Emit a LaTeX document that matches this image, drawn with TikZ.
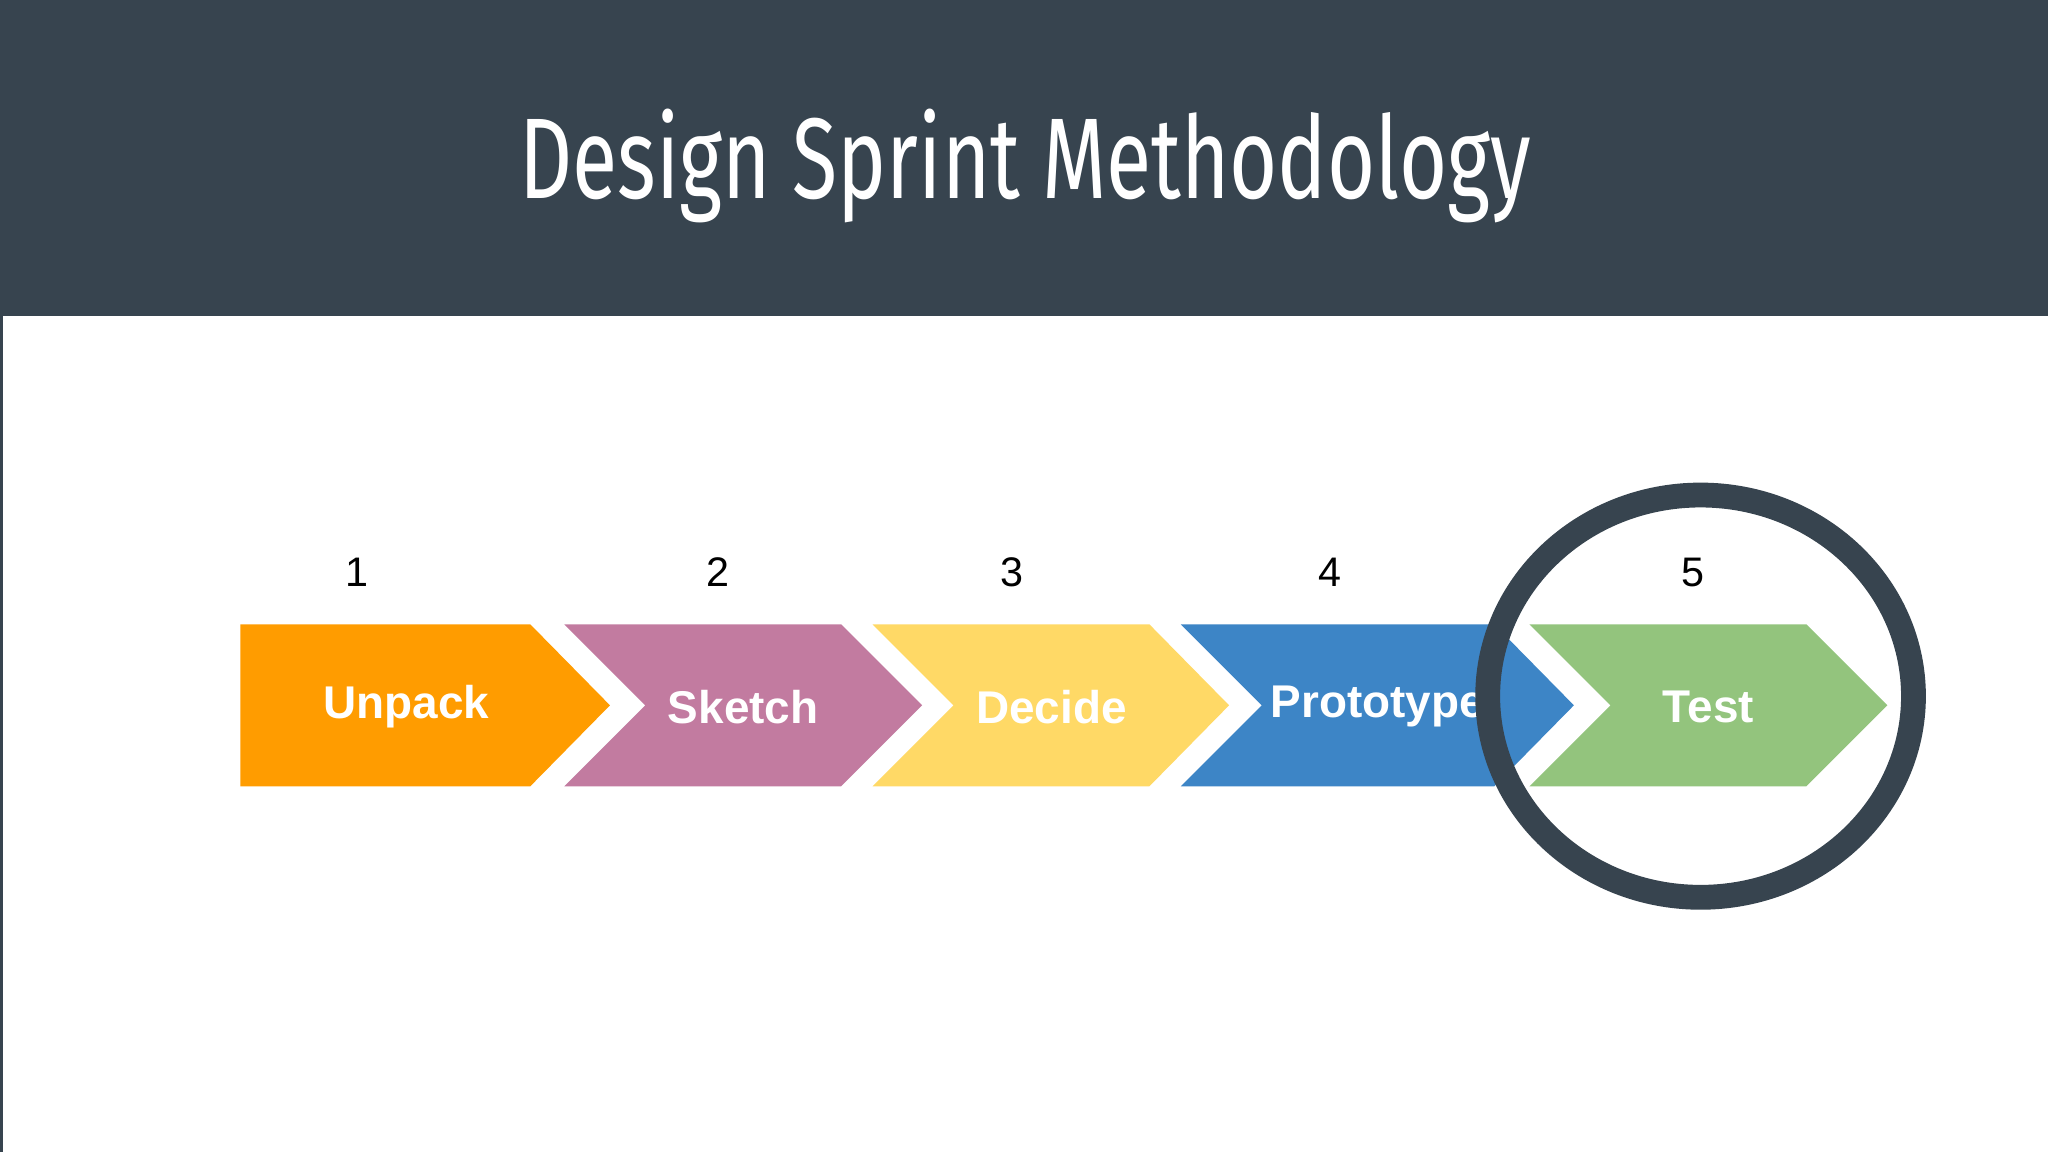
\documentclass[tikz,border=0pt]{standalone}
\usepackage{fontspec}
\setmainfont{Liberation Sans}
\newfontfamily\titlefont{Fira Sans}
\definecolor{hdr}{HTML}{37444F}
\definecolor{c1}{HTML}{FF9C00}
\definecolor{c2}{HTML}{C27BA0}
\definecolor{c3}{HTML}{FFD966}
\definecolor{c4}{HTML}{3D85C6}
\definecolor{c5}{HTML}{93C47D}
\tikzset{lbl/.style={text=white,font=\bfseries\fontsize{20}{22}\selectfont},
num/.style={text=black,font=\fontsize{18}{20}\selectfont}}
\begin{document}
\begin{tikzpicture}[x=0.02cm,y=-0.02cm]
\useasboundingbox (0,0) rectangle (1568,882);
\fill[white] (0,0) rectangle (1568,882);
\fill[hdr] (0,0) rectangle (1568,242);
\fill[hdr] (0,242) rectangle (2,882);
\node[text=white,font=\titlefont\fontsize{50}{56}\selectfont] (title) at (785,127) {\scalebox{0.72}[1]{Design Sprint Methodology}};
\fill[c1] (184,478) -- (406,478) -- (467,540) -- (406,602) -- (184,602) -- cycle;
\fill[c2] (432,478) -- (644,478) -- (706,540) -- (644,602) -- (432,602) -- (494,540) -- cycle;
\fill[c3] (668,478) -- (880,478) -- (941,540) -- (880,602) -- (668,602) -- (730,540) -- cycle;
\fill[c4] (904,478) -- (1144,478) -- (1205,540) -- (1144,602) -- (904,602) -- (966,540) -- cycle;
\fill[c5] (1171,478) -- (1383,478) -- (1445,540) -- (1383,602) -- (1171,602) -- (1233,540) -- cycle;
\node[lbl] (l1) at (311,541) {Unpack};
\node[lbl] (l2) at (569,541) {Sketch};
\node[lbl] (l3) at (805,541) {Decide};
\node[lbl] (l4) at (1055,541) {Prototype};
\node[lbl] (l5) at (1308,541) {Test};
\node[num] (n1) at (273,438) {1};
\node[num] (n2) at (550,438) {2};
\node[num] (n3) at (775,438) {3};
\node[num] (n4) at (1018,438) {4};
\node[num] (n5) at (1296,438) {5};
\draw[hdr,line width=0.38cm] (1302,533) ellipse [x radius=163,y radius=154];
\end{tikzpicture}
\end{document}
